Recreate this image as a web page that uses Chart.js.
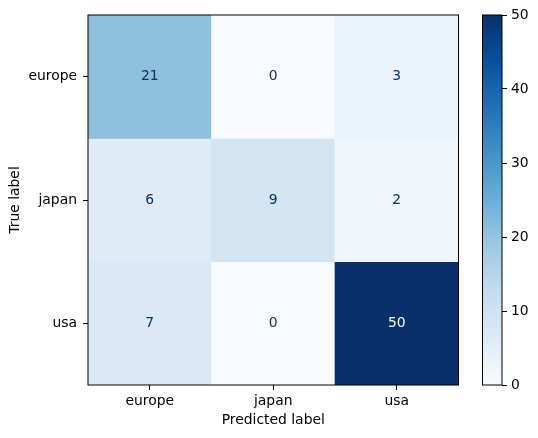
<!DOCTYPE html>
<html>
<head>
<meta charset="utf-8">
<title>Confusion matrix</title>
<script src="https://cdn.jsdelivr.net/npm/chart.js@4.4.1/dist/chart.umd.min.js"></script>
<style>
  html, body { margin: 0; padding: 0; background: #fff; }
  #wrap { position: relative; width: 538px; height: 438px; }
  #matrix-chart { position: absolute; left: 0; top: 0; }
  #colorbar-chart { position: absolute; left: 440px; top: 0; }
</style>
</head>
<body>
<div id="wrap">
  <canvas id="matrix-chart" width="538" height="438"></canvas>
  <canvas id="colorbar-chart" width="98" height="438"></canvas>
</div>
<script>
// Class labels (rows = true, columns = predicted)
const predictedLabels = ['europe', 'japan', 'usa'];
const trueLabels = ['europe', 'japan', 'usa'];

// Counts, one array per true-label row
const rowEurope = [21, 0, 3];
const rowJapan = [6, 9, 2];
const rowUsa = [7, 0, 50];
const counts = [rowEurope, rowJapan, rowUsa];

// Colorbar range and ticks
const colorMin = 0;
const colorMax = 50;
const colorStep = 10;

// matplotlib "Blues" colormap stops
const blues = ['#f7fbff', '#deebf7', '#c6dbef', '#9ecae1', '#6baed6', '#4292c6', '#2171b5', '#08519c', '#08306b'];

const FONT_SIZE = 13.9;

Chart.defaults.font.family = '"DejaVu Sans", sans-serif';
Chart.defaults.font.size = FONT_SIZE;
Chart.defaults.color = '#000';

function hexToRgb(hex) {
  const n = parseInt(hex.slice(1), 16);
  return [(n >> 16) & 255, (n >> 8) & 255, n & 255];
}

// Look up a colour for a value in the Blues colormap
function bluesColor(value) {
  let t = (value - colorMin) / (colorMax - colorMin);
  t = Math.min(1, Math.max(0, t));
  const pos = t * (blues.length - 1);
  const i = Math.min(blues.length - 2, Math.floor(pos));
  const f = pos - i;
  const a = hexToRgb(blues[i]);
  const b = hexToRgb(blues[i + 1]);
  const rgb = a.map((v, k) => Math.round(v + (b[k] - v) * f));
  return `rgb(${rgb[0]}, ${rgb[1]}, ${rgb[2]})`;
}

/**
 * Black frame around the plotting area
 */
const framePlugin = {
  id: 'frame',
  afterDatasetsDraw(chart) {
    const { ctx, chartArea } = chart;
    ctx.save();
    ctx.strokeStyle = '#000';
    ctx.lineWidth = 1;
    ctx.strokeRect(chartArea.left, chartArea.top, chartArea.right - chartArea.left, chartArea.bottom - chartArea.top);
    ctx.restore();
  }
};

/**
 * Count written in the middle of each cell
 */
const cellTextPlugin = {
  id: 'cellText',
  afterDatasetsDraw(chart) {
    const { ctx, scales } = chart;
    const flat = counts.flat();
    const thresh = (Math.max(...flat) + Math.min(...flat)) / 2;
    ctx.save();
    ctx.font = FONT_SIZE + 'px "DejaVu Sans", sans-serif';
    ctx.textAlign = 'center';
    ctx.textBaseline = 'middle';
    counts.forEach((row, r) => {
      row.forEach((v, c) => {
        ctx.fillStyle = v < thresh ? blues[blues.length - 1] : blues[0];
        ctx.fillText(String(v), scales.x.getPixelForValue(c), scales.y.getPixelForValue(r));
      });
    });
    ctx.restore();
  }
};

// One floating-bar dataset per row of the matrix
const matrixDatasets = counts.map((row, r) => ({
  label: trueLabels[r],
  data: row.map(() => [r - 0.5, r + 0.5]),
  backgroundColor: row.map(v => bluesColor(v)),
  borderWidth: 0,
  barPercentage: 1,
  categoryPercentage: 1,
  grouped: false
}));

new Chart(document.getElementById('matrix-chart'), {
  type: 'bar',
  data: {
    labels: predictedLabels,
    datasets: matrixDatasets
  },
  options: {
    responsive: false,
    animation: false,
    layout: { padding: { left: 0, right: 79.5, top: 15, bottom: 0 } },
    plugins: {
      legend: { display: false },
      tooltip: { enabled: false }
    },
    scales: {
      x: {
        type: 'category',
        offset: true,
        grid: { offset: false, drawOnChartArea: false, color: '#000', tickLength: 5 },
        border: { display: false },
        ticks: { padding: 3.5, color: '#000' },
        title: { display: true, text: 'Predicted label', color: '#000', padding: { top: 0, bottom: 9.7 } },
        afterFit(scale) { scale.height = 53; }
      },
      y: {
        type: 'linear',
        min: -0.5,
        max: 2.5,
        reverse: true,
        afterBuildTicks(axis) {
          axis.ticks = trueLabels.map((_, i) => ({ value: i }));
        },
        grid: { drawOnChartArea: false, color: '#000', tickLength: 5 },
        border: { display: false },
        ticks: {
          padding: 6,
          color: '#000',
          callback: (value) => trueLabels[value]
        },
        title: { display: true, text: 'True label', color: '#000', padding: { top: 6.7, bottom: 0 } },
        afterFit(scale) { scale.width = 88; }
      }
    }
  },
  plugins: [cellTextPlugin, framePlugin]
});

// Colorbar: a single floating bar filled with the colormap gradient
new Chart(document.getElementById('colorbar-chart'), {
  type: 'bar',
  data: {
    labels: [''],
    datasets: [{
      data: [[colorMin, colorMax]],
      backgroundColor(context) {
        const area = context.chart.chartArea;
        if (!area) return blues[0];
        const g = context.chart.ctx.createLinearGradient(0, area.bottom, 0, area.top);
        blues.forEach((c, i) => g.addColorStop(i / (blues.length - 1), c));
        return g;
      },
      borderWidth: 0,
      barPercentage: 1,
      categoryPercentage: 1
    }]
  },
  options: {
    responsive: false,
    animation: false,
    layout: { padding: { left: 42.5, right: 0, top: 15, bottom: 53 } },
    plugins: {
      legend: { display: false },
      tooltip: { enabled: false }
    },
    scales: {
      x: { display: false },
      y: {
        position: 'right',
        min: colorMin,
        max: colorMax,
        ticks: { stepSize: colorStep, padding: 4, color: '#000' },
        grid: { drawOnChartArea: false, color: '#000', tickLength: 5 },
        border: { display: false },
        afterFit(scale) { scale.width = 36; }
      }
    }
  },
  plugins: [framePlugin]
});
</script>
</body>
</html>
